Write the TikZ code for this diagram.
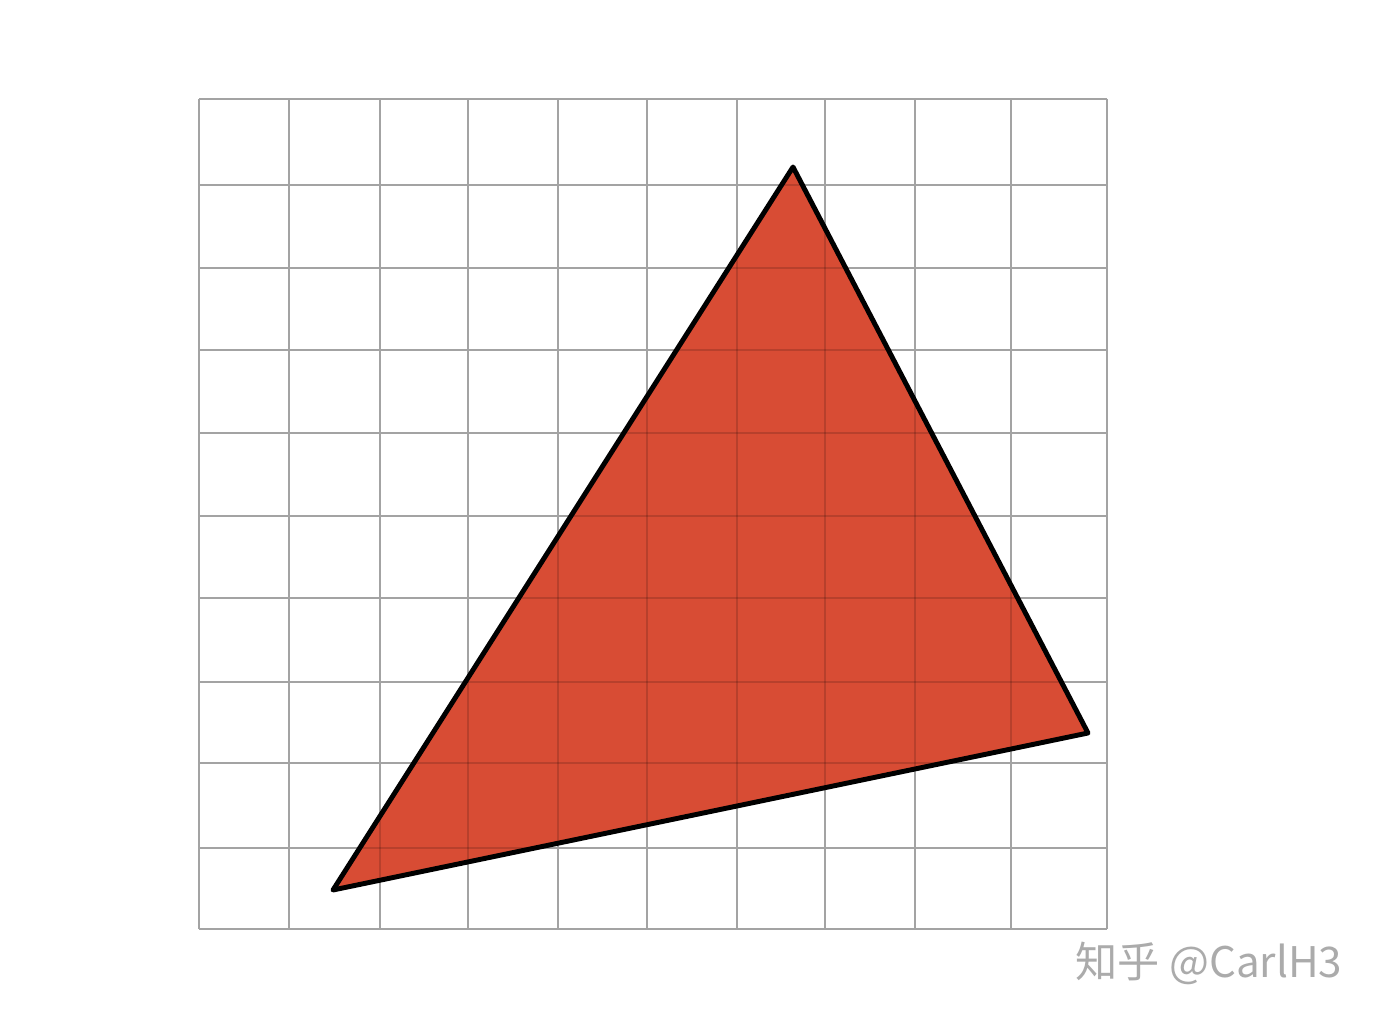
\documentclass[tikz,border=0pt]{standalone}
\usepackage{fontspec}
\newfontfamily\cjkfont{Noto Sans CJK SC}
\definecolor{tri}{HTML}{D84C34}
\definecolor{gridgray}{HTML}{A3A3A3}
\definecolor{wm}{HTML}{ABABAB}
\begin{document}
\begin{tikzpicture}[x=0.02cm,y=-0.02cm,
  gridline/.style={draw=gridgray,line width=1.2pt},
  innergrid/.style={draw=black,opacity=0.15,line width=1.2pt},
  triangle/.style={draw=black,line width=2.8pt,line join=round}]
\useasboundingbox[fill=white] (0,0) rectangle (1378,1020);
\coordinate (A) at (793,167);
\coordinate (B) at (1088,733);
\coordinate (C) at (333,890);
% grid
\foreach \x in {199,289,380,468,558,647,737,825,915,1011,1107}
  \draw[gridline] (\x,99) -- (\x,929);
\foreach \y in {99,185,268,350,433,516,598,682,763,848,929}
  \draw[gridline] (199,\y) -- (1107,\y);
% triangle
\fill[tri] (A) -- (B) -- (C) -- cycle;
\begin{scope}
  \clip (A) -- (B) -- (C) -- cycle;
  \foreach \x in {199,289,380,468,558,647,737,825,915,1011,1107}
    \draw[innergrid] (\x,99) -- (\x,929);
  \foreach \y in {99,185,268,350,433,516,598,682,763,848,929}
    \draw[innergrid] (199,\y) -- (1107,\y);
\end{scope}
\draw[triangle] (A) -- (B) -- (C) -- cycle;
% watermark
\node[text=wm,font=\cjkfont\fontsize{24pt}{29pt}\selectfont,inner sep=0pt] (wm) at (1209,963) {知乎 @CarlH3};
\end{tikzpicture}
\end{document}
